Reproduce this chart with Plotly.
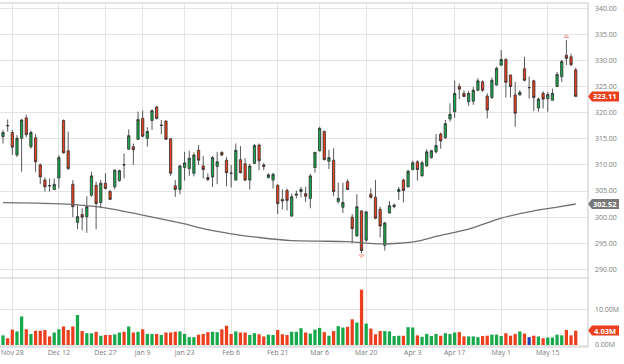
import plotly.graph_objects as go
import pandas as pd

# ---------------- data ----------------
holidays = ["2022-11-24", "2022-12-26", "2023-01-02", "2023-01-16", "2023-02-20", "2023-04-07"]
dates = [d.strftime("%Y-%m-%d") for d in pd.bdate_range("2022-11-23", "2023-05-23")
         if d.strftime("%Y-%m-%d") not in holidays]

opens = [315.4, 317.55, 316.2, 311.9, 315.1, 319.0, 313.5, 315.2, 310.0, 307.1,
         306.05, 305.3, 307.5, 318.5, 312.7, 306.3, 299.0, 300.5, 300.1, 304.2,
         306.1, 302.8, 306.5, 304.9, 305.8, 307.0, 310.05, 313.0, 313.5, 314.9,
         318.9, 315.1, 318.5, 321.1, 317.55, 318.4, 315.0, 306.0, 305.3, 309.5,
         309.3, 308.4, 312.8, 309.8, 307.6, 307.7, 309.7, 312.4, 310.9, 308.45,
         307.1, 311.0, 310.2, 307.1, 310.3, 313.8, 310.0, 307.6, 307.1, 306.1,
         303.4, 305.1, 300.2, 304.2, 304.9, 304.5, 303.6, 309.5, 312.7, 316.4,
         310.7, 310.9, 303.0, 301.9, 306.8, 300.0, 296.4, 301.2, 295.6, 304.4,
         303.8, 301.5, 294.6, 300.8, 302.0, 304.9, 307.1, 305.8, 309.1, 310.6,
         307.9, 309.8, 311.4, 312.5, 315.9, 315.2, 318.8, 320.2, 325.0, 323.7,
         322.1, 322.2, 324.3, 325.9, 323.2, 322.9, 325.3, 329.1, 330.2, 327.2,
         323.4, 323.4, 328.4, 324.8, 326.1, 320.9, 323.7, 322.7, 322.4, 325.0,
         326.9, 331.0, 330.7, 328.2]
highs = [316.7, 318.7, 316.7, 315.7, 318.8, 319.6, 316.6, 315.9, 310.3, 307.6,
         307.4, 307.4, 311.9, 318.7, 316.4, 307.1, 302.3, 301.7, 304.0, 308.7,
         306.8, 307.1, 308.4, 305.2, 309.1, 309.1, 312.2, 316.8, 314.1, 320.2,
         320.4, 317.2, 320.6, 321.3, 318.6, 318.5, 315.1, 307.1, 310.0, 312.5,
         312.7, 312.4, 313.8, 311.7, 308.4, 311.7, 312.5, 312.6, 311.5, 310.0,
         314.1, 313.6, 311.3, 310.2, 314.0, 314.1, 310.4, 308.4, 308.5, 306.3,
         305.3, 305.5, 304.5, 305.1, 305.8, 305.8, 308.3, 312.5, 317.3, 316.6,
         312.9, 313.2, 306.6, 306.6, 307.2, 300.6, 304.4, 301.3, 301.2, 305.5,
         307.1, 302.0, 299.1, 303.1, 302.6, 305.8, 307.4, 309.1, 310.8, 310.9,
         310.8, 313.0, 312.9, 315.9, 316.2, 318.6, 321.8, 326.1, 325.6, 324.3,
         324.2, 324.9, 326.6, 326.2, 323.7, 326.7, 328.8, 332.0, 330.4, 327.3,
         325.9, 324.3, 330.7, 326.9, 326.3, 322.9, 324.1, 324.0, 324.6, 327.8,
         330.1, 333.9, 331.3, 328.6]
lows = [314.1, 316.4, 311.9, 311.5, 308.7, 315.3, 313.1, 308.7, 306.3, 304.9,
        304.9, 305.2, 305.5, 312.2, 309.0, 300.0, 297.7, 297.5, 297.0, 303.9,
        297.7, 301.7, 305.3, 303.3, 305.3, 306.8, 307.4, 312.9, 310.0, 314.8,
        315.3, 313.5, 316.7, 318.7, 315.9, 314.8, 307.9, 303.9, 304.4, 307.0,
        307.9, 307.8, 310.0, 307.4, 306.9, 305.8, 306.3, 311.7, 305.9, 305.7,
        307.0, 308.4, 306.9, 305.3, 310.2, 309.0, 309.0, 307.4, 305.5, 300.6,
        301.5, 301.3, 300.1, 303.6, 303.8, 302.9, 301.7, 308.5, 312.6, 310.9,
        309.2, 304.0, 302.6, 300.8, 305.2, 295.0, 296.3, 293.1, 295.3, 303.6,
        299.6, 296.1, 293.6, 300.7, 301.7, 303.3, 302.8, 305.7, 309.0, 307.0,
        307.8, 309.7, 311.2, 312.2, 313.1, 315.0, 318.3, 319.0, 322.6, 323.0,
        321.3, 321.5, 324.1, 324.0, 318.9, 322.6, 325.2, 329.0, 322.9, 322.9,
        317.3, 323.3, 326.0, 322.7, 320.3, 320.2, 320.8, 320.2, 322.3, 324.9,
        325.9, 329.1, 328.9, 323.11]
closes = [316.2, 317.5, 313.4, 315.1, 318.6, 315.8, 316.2, 310.6, 307.7, 305.8,
          306.0, 306.3, 311.4, 312.3, 309.3, 302.0, 300.1, 300.0, 302.0, 307.9,
          302.6, 306.5, 305.5, 303.4, 309.0, 308.9, 310.0, 315.6, 312.9, 318.7,
          315.5, 316.4, 320.4, 318.9, 317.6, 314.9, 308.4, 305.3, 309.8, 310.4,
          311.3, 311.9, 310.9, 309.1, 307.2, 311.4, 310.6, 311.9, 308.5, 308.4,
          312.8, 308.5, 307.1, 309.8, 313.7, 310.8, 309.7, 308.1, 308.2, 302.6,
          303.1, 303.2, 303.9, 304.4, 305.3, 304.0, 307.9, 312.4, 317.0, 311.0,
          311.4, 304.9, 303.6, 302.8, 305.3, 297.8, 302.0, 293.6, 301.0, 303.8,
          299.8, 298.3, 298.9, 302.2, 302.3, 305.3, 305.1, 308.8, 310.4, 309.1,
          310.4, 312.5, 312.7, 313.7, 314.6, 317.9, 319.7, 323.7, 324.5, 323.1,
          323.7, 324.3, 326.1, 324.3, 320.5, 326.2, 328.5, 330.2, 325.8, 325.0,
          319.9, 323.9, 326.2, 324.8, 322.9, 322.6, 322.6, 323.5, 323.7, 327.3,
          329.8, 330.4, 329.2, 323.11]
volumes_m = [2.7, 1.9, 4.3, 3.8, 8.0, 4.4, 3.1, 4.0, 4.0, 4.2,
             2.4, 3.5, 4.4, 5.2, 4.2, 5.2, 8.4, 3.9, 3.3, 3.3,
             3.7, 2.6, 2.8, 2.8, 3.0, 3.5, 3.7, 5.2, 3.5, 3.7,
             4.4, 3.1, 3.1, 3.1, 2.8, 3.5, 3.5, 3.7, 3.8, 3.1,
             2.2, 2.2, 2.9, 3.1, 3.6, 3.7, 3.6, 4.4, 5.4, 3.1,
             3.8, 3.5, 3.5, 2.8, 3.3, 3.0, 2.4, 2.9, 2.8, 4.2,
             3.0, 2.8, 3.7, 3.7, 4.7, 3.5, 3.2, 4.3, 4.8, 3.6,
             2.6, 3.9, 5.3, 4.9, 5.1, 7.2, 6.3, 15.5, 6.0, 4.6,
             3.0, 3.9, 3.9, 3.8, 2.5, 2.6, 2.6, 5.0, 4.9, 2.7,
             2.3, 3.1, 2.5, 3.1, 2.6, 3.3, 3.1, 3.5, 3.6, 2.4,
             2.4, 2.4, 2.2, 2.5, 2.6, 2.9, 2.9, 2.5, 3.3, 2.6,
             3.1, 3.8, 3.2, 2.2, 2.6, 2.4, 1.9, 2.1, 2.1, 2.9,
             2.7, 4.2, 2.7, 4.03]
ma_idx = [0, 7, 14, 21, 30, 39, 44, 49, 55, 62, 68, 74, 80, 85, 89, 93, 100, 107, 114, 119, 123]
ma_val = [302.8, 302.7, 302.5, 301.9, 300.4, 298.7, 297.6, 296.8, 296.1, 295.5, 295.4,
          295.3, 294.9, 295.0, 295.4, 296.3, 297.7, 299.8, 301.2, 301.9, 302.52]
tick_dates = ["2022-11-28", "2022-12-12", "2022-12-27", "2023-01-09", "2023-01-23", "2023-02-06",
              "2023-02-21", "2023-03-06", "2023-03-20", "2023-04-03", "2023-04-17", "2023-05-01",
              "2023-05-15"]
tick_labels = ["Nov 28", "Dec 12", "Dec 27", "Jan 9", "Jan 23", "Feb 6", "Feb 21", "Mar 6",
               "Mar 20", "Apr 3", "Apr 17", "May 1", "May 15"]
price_ticks = [290, 295, 300, 305, 310, 315, 320, 325, 330, 335, 340]
last_price = 323.11
last_ma = 302.52
last_vol = 4.03
period_high_idx, period_high = 121, 334.6
period_low_idx, period_low = 77, 292.6

# ---------------- style ----------------
UP = "#17a84b"
DOWN = "#ec3f1e"
FLAT = "#2340b8"
OUTLINE = "#2e2e2e"
GRID = "#e4e4e4"
TXT = "#7a7a7a"
FONT = "Open Sans"

vol_colors = [UP if c > o else (DOWN if c < o else FLAT) for o, c in zip(opens, closes)]

fig = go.Figure()
fig.add_trace(go.Candlestick(
    x=dates, open=opens, high=highs, low=lows, close=closes,
    increasing=dict(line=dict(color=OUTLINE, width=0.8), fillcolor=UP),
    decreasing=dict(line=dict(color=OUTLINE, width=0.8), fillcolor=DOWN),
    whiskerwidth=0, xaxis="x", yaxis="y", hoverinfo="skip", showlegend=False))
fig.add_trace(go.Scatter(
    x=[dates[i] for i in ma_idx], y=ma_val, mode="lines",
    line=dict(color="#6f6f6f", width=1.3, shape="spline", smoothing=0.6),
    xaxis="x", yaxis="y", showlegend=False, hoverinfo="skip"))
fig.add_trace(go.Scatter(
    x=[dates[period_high_idx], dates[period_low_idx]], y=[period_high, period_low],
    mode="markers", marker=dict(symbol=["triangle-up-open", "triangle-down-open"], size=4,
                                color="#f29a8e", line=dict(width=1)),
    xaxis="x", yaxis="y", showlegend=False, hoverinfo="skip"))
fig.add_trace(go.Bar(
    x=dates, y=volumes_m, marker=dict(color=vol_colors, line=dict(width=0)),
    xaxis="x", yaxis="y2", showlegend=False, hoverinfo="skip"))

W, H = 624, 364
ML, MR, MT, MB = 0, 36, 3, 17
PW = W - ML - MR
PH = H - MT - MB
split = (H - MB - 278) / PH


def px_x(p):
    return (p - ML) / PW


def tag(y, ref, half, color, text):
    x0, x1, x2 = px_x(588), px_x(592), px_x(619)
    fig.add_shape(type="path", xref="paper", yref=ref,
                  path=f"M {x0},{y} L {x1},{y + half} L {x2},{y + half} L {x2},{y - half} L {x1},{y - half} Z",
                  fillcolor=color, line=dict(width=0), layer="above")
    fig.add_annotation(x=px_x(605.5), y=y, xref="paper", yref=ref, text=f"<b>{text}</b>",
                       showarrow=False, font=dict(family=FONT, size=7.5, color="white"),
                       xanchor="center", yanchor="middle")


tag(last_price, "y", 5 / 5.22, DOWN, f"{last_price:.2f}")
tag(last_ma, "y", 5 / 5.22, "#777777", f"{last_ma:.2f}")
tag(last_vol, "y2", 5 / 3.57, DOWN, f"{last_vol:.2f}M")

# borders
for yy in [0, split, 1]:
    fig.add_shape(type="line", xref="paper", yref="paper", x0=0, x1=1, y0=yy, y1=yy,
                  line=dict(color="#c8c8c8", width=1))
fig.add_shape(type="line", xref="paper", yref="paper", x0=1, x1=1, y0=0, y1=1,
              line=dict(color="#c8c8c8", width=1))

fig.update_layout(
    width=W, height=H, margin=dict(l=ML, r=MR, t=MT, b=MB),
    paper_bgcolor="white", plot_bgcolor="white",
    font=dict(family=FONT, size=7, color=TXT),
    bargap=0.3, showlegend=False,
    xaxis=dict(type="category", categoryorder="array", categoryarray=dates,
               range=[-0.644, 125.64], anchor="y2",
               tickvals=tick_dates, ticktext=tick_labels, showgrid=True, gridcolor=GRID,
               gridwidth=1, ticks="", showline=False, zeroline=False,
               rangeslider=dict(visible=False), tickfont=dict(size=7, color=TXT)),
    yaxis=dict(domain=[split, 1], side="right", range=[288.35, 341.0], anchor="x",
               tickvals=price_ticks, tickformat=".2f", showgrid=True, gridcolor=GRID,
               zeroline=False, ticks="", ticklabelstandoff=6, tickfont=dict(size=7, color=TXT)),
    yaxis2=dict(domain=[0, split], side="right", range=[-0.56, 18.77], anchor="x",
                tickvals=[0, 10], ticktext=["0.00M", "10.00M"], showgrid=True, gridcolor=GRID,
                zeroline=False, ticks="", ticklabelstandoff=6, tickfont=dict(size=7, color=TXT)),
)

fig.write_html("out.html")
